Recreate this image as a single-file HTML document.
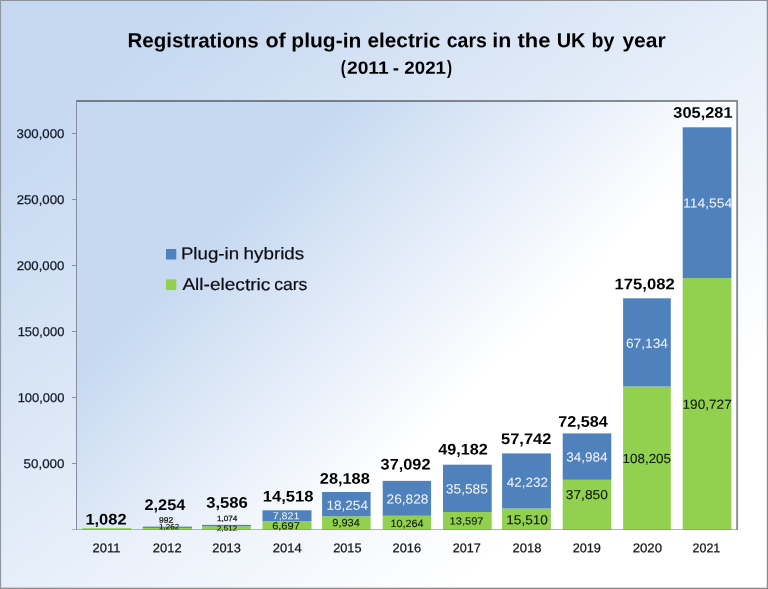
<!DOCTYPE html>
<html><head><meta charset="utf-8"><title>Registrations of plug-in electric cars in the UK by year</title>
<style>
html,body{margin:0;padding:0;background:#fff;}
svg{display:block;will-change:transform;font-family:"Liberation Sans",sans-serif;}
text{white-space:pre;text-rendering:geometricPrecision;}
</style></head><body>
<svg width="768" height="589" viewBox="0 0 768 589">
<defs>
<linearGradient id="gc" x1="0" y1="0" x2="1" y2="1"><stop offset="0" stop-color="#c6d9f1"/><stop offset="0.135" stop-color="#c6d9f1"/><stop offset="0.797" stop-color="#ffffff"/><stop offset="1" stop-color="#ffffff"/></linearGradient>
<linearGradient id="gp" gradientUnits="userSpaceOnUse" x1="76.5" y1="101" x2="576.50" y2="601.00"><stop offset="0" stop-color="#c6d9f1"/><stop offset="0.27" stop-color="#c6d9f1"/><stop offset="0.688" stop-color="#ffffff"/><stop offset="1" stop-color="#ffffff"/></linearGradient>
</defs>
<rect x="0" y="0" width="768" height="589" fill="url(#gc)"/>
<rect x="0" y="0" width="768" height="1" fill="#8b9099"/>
<rect x="0" y="0" width="1.1" height="589" fill="#8f97a3"/>
<rect x="766.75" y="0" width="1.25" height="589" fill="#8c8c8c"/>
<rect x="0" y="587.7" width="768" height="1.3" fill="#8c8c8c"/>
<rect x="76.5" y="101" width="660.5" height="428.5" fill="url(#gp)"/>
<rect x="72" y="529" width="666" height="1" fill="#b2b2b6"/>
<rect x="82.2" y="528.17" width="49.00" height="1.73" fill="#92d050"/>
<rect x="142.7" y="527.93" width="49.20" height="1.97" fill="#92d050"/>
<rect x="142.7" y="526.62" width="49.20" height="1.31" fill="#4f81bd"/>
<rect x="202.1" y="526.28" width="48.70" height="3.62" fill="#92d050"/>
<rect x="202.1" y="524.87" width="48.70" height="1.42" fill="#4f81bd"/>
<rect x="262.5" y="521.00" width="49.00" height="8.90" fill="#92d050"/>
<rect x="262.5" y="510.30" width="49.00" height="10.70" fill="#4f81bd"/>
<rect x="322.1" y="516.30" width="48.50" height="13.60" fill="#92d050"/>
<rect x="322.1" y="492.00" width="48.50" height="24.30" fill="#4f81bd"/>
<rect x="382.7" y="515.75" width="48.40" height="14.15" fill="#92d050"/>
<rect x="382.7" y="480.85" width="48.40" height="34.90" fill="#4f81bd"/>
<rect x="443.0" y="512.00" width="48.70" height="17.90" fill="#92d050"/>
<rect x="443.0" y="464.70" width="48.70" height="47.30" fill="#4f81bd"/>
<rect x="502.1" y="508.50" width="48.80" height="21.40" fill="#92d050"/>
<rect x="502.1" y="453.40" width="48.80" height="55.10" fill="#4f81bd"/>
<rect x="562.7" y="479.80" width="48.60" height="50.10" fill="#92d050"/>
<rect x="562.7" y="433.40" width="48.60" height="46.40" fill="#4f81bd"/>
<rect x="623.1" y="386.50" width="47.70" height="143.40" fill="#92d050"/>
<rect x="623.1" y="298.30" width="47.70" height="88.20" fill="#4f81bd"/>
<rect x="682.7" y="278.10" width="48.70" height="251.80" fill="#92d050"/>
<rect x="682.7" y="127.30" width="48.70" height="150.80" fill="#4f81bd"/>
<rect x="82.2" y="529.1" width="49.00" height="0.8" fill="#4a6a2a" fill-opacity="0.3"/>
<rect x="142.7" y="529.1" width="49.20" height="0.8" fill="#4a6a2a" fill-opacity="0.3"/>
<rect x="202.1" y="529.1" width="48.70" height="0.8" fill="#4a6a2a" fill-opacity="0.3"/>
<rect x="262.5" y="529.1" width="49.00" height="0.8" fill="#4a6a2a" fill-opacity="0.3"/>
<rect x="322.1" y="529.1" width="48.50" height="0.8" fill="#4a6a2a" fill-opacity="0.3"/>
<rect x="382.7" y="529.1" width="48.40" height="0.8" fill="#4a6a2a" fill-opacity="0.3"/>
<rect x="443.0" y="529.1" width="48.70" height="0.8" fill="#4a6a2a" fill-opacity="0.3"/>
<rect x="502.1" y="529.1" width="48.80" height="0.8" fill="#4a6a2a" fill-opacity="0.3"/>
<rect x="562.7" y="529.1" width="48.60" height="0.8" fill="#4a6a2a" fill-opacity="0.3"/>
<rect x="623.1" y="529.1" width="47.70" height="0.8" fill="#4a6a2a" fill-opacity="0.3"/>
<rect x="682.7" y="529.1" width="48.70" height="0.8" fill="#4a6a2a" fill-opacity="0.3"/>
<rect x="76" y="100.1" width="662" height="1.8" fill="#000" fill-opacity="0.47"/>
<rect x="736.2" y="100" width="1.85" height="430" fill="#8a8a8a"/>
<rect x="76" y="100" width="1" height="430" fill="#858e9e"/>
<rect x="72" y="463" width="4" height="1" fill="#8a8f9a"/>
<rect x="72" y="397" width="4" height="1" fill="#8a8f9a"/>
<rect x="72" y="331" width="4" height="1" fill="#8a8f9a"/>
<rect x="72" y="265" width="4" height="1" fill="#8a8f9a"/>
<rect x="72" y="199" width="4" height="1" fill="#8a8f9a"/>
<rect x="72" y="133" width="4" height="1" fill="#8a8f9a"/>
<text transform="translate(16.57,137.95) rotate(0.03) scale(1.0420,1)" font-size="12.71" fill="#131b28" stroke="#131b28" stroke-width="0.25">300,000</text>
<text transform="translate(16.64,203.95) rotate(0.03) scale(1.0405,1)" font-size="12.71" fill="#131b28" stroke="#131b28" stroke-width="0.25">250,000</text>
<text transform="translate(16.64,269.95) rotate(0.03) scale(1.0405,1)" font-size="12.71" fill="#131b28" stroke="#131b28" stroke-width="0.25">200,000</text>
<text transform="translate(17.63,335.95) rotate(0.03) scale(1.0188,1)" font-size="12.71" fill="#131b28" stroke="#131b28" stroke-width="0.25">150,000</text>
<text transform="translate(17.63,401.95) rotate(0.03) scale(1.0188,1)" font-size="12.71" fill="#131b28" stroke="#131b28" stroke-width="0.25">100,000</text>
<text transform="translate(23.57,467.95) rotate(0.03) scale(1.0513,1)" font-size="12.71" fill="#131b28" stroke="#131b28" stroke-width="0.25">50,000</text>
<text transform="translate(92.55,552.20) rotate(0.03) scale(1.0162,1)" font-size="12.71" fill="#151515" stroke="#151515" stroke-width="0.25">2011</text>
<text transform="translate(152.85,552.20) rotate(0.03) scale(1.0178,1)" font-size="12.71" fill="#151515" stroke="#151515" stroke-width="0.25">2012</text>
<text transform="translate(212.26,552.20) rotate(0.03) scale(1.0131,1)" font-size="12.71" fill="#151515" stroke="#151515" stroke-width="0.25">2013</text>
<text transform="translate(272.85,552.20) rotate(0.03) scale(1.0194,1)" font-size="12.71" fill="#151515" stroke="#151515" stroke-width="0.25">2014</text>
<text transform="translate(333.16,552.20) rotate(0.03) scale(1.0020,1)" font-size="12.71" fill="#151515" stroke="#151515" stroke-width="0.25">2015</text>
<text transform="translate(392.56,552.20) rotate(0.03) scale(1.0131,1)" font-size="12.71" fill="#151515" stroke="#151515" stroke-width="0.25">2016</text>
<text transform="translate(452.77,552.20) rotate(0.03) scale(0.9919,1)" font-size="12.71" fill="#151515" stroke="#151515" stroke-width="0.25">2017</text>
<text transform="translate(512.55,552.20) rotate(0.03) scale(1.0241,1)" font-size="12.71" fill="#151515" stroke="#151515" stroke-width="0.25">2018</text>
<text transform="translate(572.66,552.20) rotate(0.03) scale(1.0007,1)" font-size="12.71" fill="#151515" stroke="#151515" stroke-width="0.25">2019</text>
<text transform="translate(632.64,552.20) rotate(0.03) scale(1.0401,1)" font-size="12.71" fill="#151515" stroke="#151515" stroke-width="0.25">2020</text>
<text transform="translate(692.58,552.20) rotate(0.03) scale(0.9804,1)" font-size="12.71" fill="#151515" stroke="#151515" stroke-width="0.25">2021</text>
<text transform="translate(127.41,47.35) rotate(0.03) scale(1.0020,1)" font-size="20.51" font-weight="bold" fill="#000">Registrations</text>
<text transform="translate(265.39,47.35) rotate(0.03) scale(1.0534,1)" font-size="20.51" font-weight="bold" fill="#000">of</text>
<text transform="translate(291.34,47.35) rotate(0.03) scale(1.0240,1)" font-size="20.51" font-weight="bold" fill="#000">plug-in</text>
<text transform="translate(367.47,47.35) rotate(0.03) scale(1.0137,1)" font-size="20.51" font-weight="bold" fill="#000">electric</text>
<text transform="translate(446.72,47.35) rotate(0.03) scale(0.9506,1)" font-size="20.51" font-weight="bold" fill="#000">cars</text>
<text transform="translate(492.25,47.35) rotate(0.03) scale(1.0426,1)" font-size="20.51" font-weight="bold" fill="#000">in</text>
<text transform="translate(517.48,47.35) rotate(0.03) scale(1.0691,1)" font-size="20.51" font-weight="bold" fill="#000">the</text>
<text transform="translate(556.70,47.35) rotate(0.03) scale(0.9717,1)" font-size="20.51" font-weight="bold" fill="#000">UK</text>
<text transform="translate(591.52,47.35) rotate(0.03) scale(0.9575,1)" font-size="20.51" font-weight="bold" fill="#000">by</text>
<text transform="translate(622.39,47.35) rotate(0.03) scale(1.0256,1)" font-size="20.51" font-weight="bold" fill="#000">year</text>
<text transform="translate(346.92,73.70) rotate(0.03) scale(1.0889,1)" font-size="17.71" font-weight="bold" fill="#000">2011</text>
<text transform="translate(392.75,74.00) rotate(0.03) scale(1.0626,1)" font-size="17.71" font-weight="bold" fill="#000">-</text>
<text transform="translate(404.34,73.70) rotate(0.03) scale(1.0586,1)" font-size="17.71" font-weight="bold" fill="#000">2021</text>
<text transform="translate(340.83,73.60) rotate(0.03) scale(0.7888,1)" font-size="19.47" font-weight="bold" fill="#000">(</text>
<text transform="translate(447.00,73.60) rotate(0.03) scale(0.7750,1)" font-size="19.47" font-weight="bold" fill="#000">)</text>
<rect x="166.0" y="249.0" width="10.3" height="10.5" fill="#4f81bd"/>
<rect x="166.0" y="279.4" width="10.3" height="10.7" fill="#92d050"/>
<text transform="translate(180.90,259.20) rotate(0.03) scale(1.1039,1)" font-size="16.96" fill="#0c0c14" stroke="#0c0c14" stroke-width="0.2">Plug-in</text>
<text transform="translate(243.58,259.20) rotate(0.03) scale(1.1095,1)" font-size="16.96" fill="#0c0c14" stroke="#0c0c14" stroke-width="0.2">hybrids</text>
<text transform="translate(182.40,290.10) rotate(0.03) scale(1.1255,1)" font-size="16.96" fill="#0c0c14" stroke="#0c0c14" stroke-width="0.2">All-electric</text>
<text transform="translate(274.20,290.10) rotate(0.03) scale(1.0365,1)" font-size="16.96" fill="#0c0c14" stroke="#0c0c14" stroke-width="0.2">cars</text>
<text transform="translate(85.42,524.40) rotate(0.03) scale(1.0690,1)" font-size="15.36" font-weight="bold" fill="#000">1,082</text>
<text transform="translate(144.43,509.90) rotate(0.03) scale(1.0641,1)" font-size="15.36" font-weight="bold" fill="#000">2,254</text>
<text transform="translate(206.18,507.70) rotate(0.03) scale(1.0848,1)" font-size="15.36" font-weight="bold" fill="#000">3,586</text>
<text transform="translate(262.81,501.40) rotate(0.03) scale(1.0787,1)" font-size="15.36" font-weight="bold" fill="#000">14,518</text>
<text transform="translate(319.83,483.65) rotate(0.03) scale(1.0632,1)" font-size="15.36" font-weight="bold" fill="#000">28,188</text>
<text transform="translate(380.59,469.60) rotate(0.03) scale(1.0632,1)" font-size="15.36" font-weight="bold" fill="#000">37,092</text>
<text transform="translate(438.26,454.50) rotate(0.03) scale(1.0564,1)" font-size="15.36" font-weight="bold" fill="#000">49,182</text>
<text transform="translate(501.01,444.10) rotate(0.03) scale(1.0715,1)" font-size="15.36" font-weight="bold" fill="#000">57,742</text>
<text transform="translate(558.15,426.70) rotate(0.03) scale(1.0561,1)" font-size="15.36" font-weight="bold" fill="#000">72,584</text>
<text transform="translate(614.60,289.30) rotate(0.03) scale(1.0819,1)" font-size="15.36" font-weight="bold" fill="#000">175,082</text>
<text transform="translate(673.34,117.80) rotate(0.03) scale(1.0658,1)" font-size="15.36" font-weight="bold" fill="#000">305,281</text>
<text transform="translate(272.66,519.20) rotate(0.03) scale(1.0728,1)" font-size="10.00" fill="#ffffff" fill-opacity="0.93">7,821</text>
<text transform="translate(326.38,509.70) rotate(0.03) scale(1.0351,1)" font-size="13.14" fill="#ffffff" fill-opacity="0.93">18,254</text>
<text transform="translate(386.51,503.60) rotate(0.03) scale(1.0452,1)" font-size="13.14" fill="#ffffff" fill-opacity="0.93">26,828</text>
<text transform="translate(445.85,493.60) rotate(0.03) scale(1.0246,1)" font-size="13.43" fill="#ffffff" fill-opacity="0.93">35,585</text>
<text transform="translate(506.63,486.80) rotate(0.03) scale(1.0281,1)" font-size="13.14" fill="#ffffff" fill-opacity="0.93">42,232</text>
<text transform="translate(566.16,461.50) rotate(0.03) scale(1.0281,1)" font-size="13.14" fill="#ffffff" fill-opacity="0.93">34,984</text>
<text transform="translate(625.91,347.80) rotate(0.03) scale(1.0468,1)" font-size="13.14" fill="#ffffff" fill-opacity="0.93">67,134</text>
<text transform="translate(683.06,207.60) rotate(0.03) scale(1.0588,1)" font-size="13.14" fill="#ffffff" fill-opacity="0.93">114,554</text>
<text transform="translate(159.12,522.80) rotate(0.03) scale(1.0510,1)" font-size="8.00" fill="#111" stroke="#111" stroke-width="0.25">992</text>
<text transform="translate(216.89,520.90) rotate(0.03) scale(1.0698,1)" font-size="7.57" fill="#111" stroke="#111" stroke-width="0.25">1,074</text>
<text transform="translate(159.09,529.30) rotate(0.03) scale(1.0480,1)" font-size="7.71" fill="#0d1a05" stroke="#0d1a05" stroke-width="0.1">1,262</text>
<text transform="translate(217.10,530.80) rotate(0.03) scale(1.0769,1)" font-size="7.43" fill="#0d1a05" stroke="#0d1a05" stroke-width="0.1">2,512</text>
<text transform="translate(272.15,529.20) rotate(0.03) scale(1.0907,1)" font-size="10.14" fill="#0d1a05" stroke="#0d1a05" stroke-width="0.1">6,697</text>
<text transform="translate(332.31,526.30) rotate(0.03) scale(1.0376,1)" font-size="10.57" fill="#0d1a05" stroke="#0d1a05" stroke-width="0.1">9,934</text>
<text transform="translate(390.49,526.90) rotate(0.03) scale(1.0384,1)" font-size="10.43" fill="#0d1a05" stroke="#0d1a05" stroke-width="0.1">10,264</text>
<text transform="translate(449.57,524.60) rotate(0.03) scale(1.0799,1)" font-size="10.29" fill="#0d1a05" stroke="#0d1a05" stroke-width="0.1">13,597</text>
<text transform="translate(506.28,524.20) rotate(0.03) scale(1.0425,1)" font-size="13.07" fill="#0d1a05" stroke="#0d1a05" stroke-width="0.1">15,510</text>
<text transform="translate(565.80,499.00) rotate(0.03) scale(1.0696,1)" font-size="12.86" fill="#0d1a05" stroke="#0d1a05" stroke-width="0.1">37,850</text>
<text transform="translate(622.60,463.00) rotate(0.03) scale(1.0141,1)" font-size="13.21" fill="#0d1a05" stroke="#0d1a05" stroke-width="0.1">108,205</text>
<text transform="translate(682.48,408.75) rotate(0.03) scale(1.0321,1)" font-size="13.21" fill="#0d1a05" stroke="#0d1a05" stroke-width="0.1">190,727</text>
</svg></body></html>
